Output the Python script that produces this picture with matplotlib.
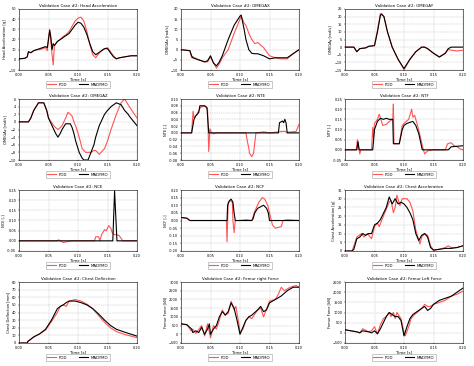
import matplotlib
matplotlib.use("Agg")
import matplotlib.pyplot as plt

# ---- datos ----
# 1. Head Acceleration
t_head = [0, 0.01, 0.014, 0.016, 0.02, 0.025, 0.03, 0.035, 0.04, 0.045, 0.048, 0.05, 0.052, 0.054, 0.056,
          0.058, 0.06, 0.065, 0.07, 0.075, 0.08, 0.085, 0.09, 0.095, 0.1, 0.105, 0.11, 0.115, 0.12, 0.125,
          0.13, 0.135, 0.14, 0.145, 0.15, 0.155, 0.16, 0.165, 0.17, 0.18, 0.19, 0.2]
mad_head = [1, 1.5, 3, 8, 7, 9, 10, 11, 12, 13, 12, 20, 29, 22, 10, 16, 14, 18, 20, 22, 24, 26, 30, 34, 37,
            36, 32, 25, 16, 8, 5, 7, 9, 11, 11, 7, 3, 1, 2, 3, 4, 4]
pod_head = [1, 1.5, 3, 8, 7, 9, 10, 10, 11, 12, 9, 22, 30, 18, 5, -5, 14, 18, 20, 23, 25, 28, 33, 38, 41,
            42, 38, 28, 15, 5, 2, 6, 9, 11, 12, 8, 4, 1, 2, 3, 4, 4]

# 2. OMEGAX
t_wx = [0, 0.015, 0.018, 0.02, 0.03, 0.04, 0.045, 0.05, 0.055, 0.06, 0.065, 0.07, 0.08, 0.09, 0.1, 0.102,
        0.107, 0.11, 0.115, 0.12, 0.125, 0.13, 0.14, 0.15, 0.16, 0.17, 0.18, 0.19, 0.2]
mad_wx = [0, -0.5, -3, -4, -5, -6, -5.5, -3, -6.5, -8, -6, -3, 5, 12, 16.5, 17, 10, 5, 0, -1.8, -2, -2,
          -3, -4.5, -4, -4, -4, -2, 0]
pod_wx = [0, -0.5, -4, -3.5, -5, -6, -6, -3.5, -6.5, -9, -7, -4, 0, 8, 15, 16.5, 13, 12, 8, 5, 3, 3.5,
          1, -3, -4, -4.5, -4.5, -2, 0]

# 3. OMEGAY
t_wy = [0, 0.015, 0.02, 0.025, 0.035, 0.04, 0.05, 0.055, 0.06, 0.062, 0.066, 0.072, 0.08, 0.09, 0.098,
        0.1, 0.11, 0.12, 0.13, 0.135, 0.14, 0.15, 0.16, 0.17, 0.175, 0.18, 0.19, 0.2]
mad_wy = [0, 0, -3, -1, -0.5, 0.5, 1, 10, 21, 21.5, 20, 10, 0, -8, -13, -14, -8, -3, 0, 0, -1, -4,
          -6.5, -4, -1, 0, 0, 0]
pod_wy = [0, 0, -3, -1, -0.5, 0.5, 1, 11, 22, 22, 20, 10, 0, -8, -13, -15, -8, -3, 0, 0, -1, -4,
          -6.5, -4, -1.5, -2, -2.5, -2]

# 4. OMEGAZ
t_wz = [0, 0.016, 0.02, 0.025, 0.033, 0.042, 0.047, 0.05, 0.059, 0.062, 0.066, 0.07, 0.073, 0.079, 0.083,
        0.087, 0.09, 0.093, 0.096, 0.102, 0.107, 0.11, 0.113, 0.117, 0.122, 0.127, 0.13, 0.136, 0.139,
        0.145, 0.15, 0.156, 0.165, 0.173, 0.179, 0.185, 0.187, 0.2]
mad_wz = [0, 0, 1, 3, 5, 5, 3, 1, -2, -3, -4, -3, -2, -0.5, -0.5, -0.5, -1.5, -3, -5, -8, -9.5, -10,
          -10, -10, -8, -6, -4, -1, 0, 2, 3, 4, 5, 4.5, 3, 2, 1.5, -1]
pod_wz = [0, 0, 1, 3, 5, 5, 3, 1, -1, -1.5, -2, -1.5, -1, 1, 2.5, 2, 1.5, 0, -1, -4, -7, -7.5, -8,
          -8, -8, -7.5, -7.5, -8.5, -8, -7, -5, -2, 2, 5, 6, 4.5, 4, 1]

# 5. NTE
t_nte_mad = [0, 0.018, 0.022, 0.025, 0.03, 0.032, 0.04, 0.044, 0.047, 0.05, 0.165, 0.167, 0.172, 0.174,
             0.176, 0.178, 0.18, 0.2]
mad_nte = [0, 0, 0.04, 0.05, 0.06, 0.08, 0.08, 0.075, 0, 0, 0, 0.03, 0.035, 0.03, 0.04, 0.03, 0, 0]
t_nte_pod = [0, 0.018, 0.0205, 0.022, 0.027, 0.033, 0.04, 0.045, 0.047, 0.049, 0.052, 0.055, 0.06, 0.11,
             0.113, 0.115, 0.116, 0.12, 0.123, 0.125, 0.127, 0.14, 0.15, 0.175, 0.18, 0.195, 0.2]
pod_nte = [0, 0, 0.064, 0.045, 0.055, 0.075, 0.08, 0.07, -0.055, 0.012, 0, -0.003, 0, 0, -0.03, -0.045,
           -0.06, -0.07, -0.06, -0.03, 0, 0.003, 0, 0.005, 0.002, 0.004, 0.025]

# 6. NTF
t_ntf_mad = [0, 0.02, 0.022, 0.024, 0.047, 0.05, 0.055, 0.06, 0.065, 0.07, 0.075, 0.081, 0.082, 0.092,
             0.097, 0.1, 0.105, 0.115, 0.12, 0.125, 0.131, 0.175, 0.18, 0.2]
mad_ntf = [0, 0, 0.04, 0, 0, 0.1, 0.14, 0.155, 0.15, 0.155, 0.15, 0.15, 0.03, 0.03, 0.1, 0.12, 0.13,
           0.14, 0.12, 0.08, 0, 0, 0.015, 0.02]
t_ntf_pod = [0, 0.019, 0.021, 0.025, 0.027, 0.045, 0.047, 0.048, 0.05, 0.055, 0.058, 0.064, 0.07, 0.075,
             0.081, 0.082, 0.083, 0.092, 0.097, 0.1, 0.108, 0.113, 0.115, 0.118, 0.123, 0.128, 0.132,
             0.135, 0.14, 0.15, 0.17, 0.174, 0.18, 0.185, 0.19, 0.195, 0.2]
pod_ntf = [0, 0, 0.05, -0.02, 0, 0, 0.11, 0.06, 0.13, 0.15, 0.175, 0.12, 0.125, 0.14, 0.15, 0.225, 0.03,
           0.03, 0.12, 0.13, 0.15, 0.2, 0.16, 0.17, 0.12, 0.06, 0.01, -0.02, -0.005, 0, 0, 0.03, 0.035,
           0.02, 0.015, 0.005, 0]

# 7. NCE
t_nce_mad = [0, 0.159, 0.162, 0.166, 0.2]
mad_nce = [0, 0, 0.245, 0, 0]
t_nce_pod = [0, 0.065, 0.067, 0.075, 0.08, 0.09, 0.128, 0.13, 0.135, 0.137, 0.14, 0.145, 0.148, 0.152,
             0.156, 0.158, 0.162, 0.166, 0.17, 0.176, 0.2]
pod_nce = [0, 0, 0.005, -0.008, -0.005, 0, 0, 0.02, 0.02, 0, 0.03, 0.055, 0.05, 0.075, 0.06, 0.04,
           0.03, 0.03, 0.025, 0, 0]

# 8. NCF
t_ncf_mad = [0, 0.01, 0.015, 0.078, 0.079, 0.082, 0.085, 0.088, 0.09, 0.092, 0.12, 0.122, 0.125, 0.13,
             0.14, 0.145, 0.148, 0.15, 0.2]
mad_ncf = [0.02, 0.015, 0, 0, 0.1, 0.13, 0.14, 0.12, 0.05, 0, 0, 0.01, 0.05, 0.08, 0.1, 0.08, 0.05, 0, 0]
t_ncf_pod = [0, 0.01, 0.015, 0.077, 0.078, 0.08, 0.084, 0.087, 0.088, 0.09, 0.092, 0.1, 0.11, 0.12,
             0.125, 0.132, 0.138, 0.142, 0.147, 0.15, 0.155, 0.16, 0.17, 0.173, 0.18, 0.2]
pod_ncf = [0.02, 0.015, 0, 0, -0.14, 0.12, 0.13, 0.12, 0, -0.08, 0, 0, 0.005, 0, 0.06, 0.12, 0.15, 0.14,
           0.1, 0.05, -0.03, -0.05, -0.04, 0, 0.005, 0]

# 9. Chest Acceleration
t_ca_mad = [0, 0.012, 0.015, 0.02, 0.025, 0.03, 0.035, 0.04, 0.045, 0.05, 0.055, 0.06, 0.07, 0.075, 0.08,
            0.085, 0.09, 0.095, 0.1, 0.105, 0.11, 0.115, 0.12, 0.125, 0.13, 0.135, 0.14, 0.145, 0.15,
            0.16, 0.17, 0.18, 0.19, 0.2]
mad_ca = [0, 0, 1, 7, 8, 10, 9, 10, 10, 15, 16, 18, 25, 31, 27, 30, 27, 28, 27, 25, 22, 18, 10, 6, 9, 10,
          8, 2, 0.5, 1, 1.5, 1.5, 2, 3]
t_ca_pod = [0, 0.012, 0.02, 0.028, 0.032, 0.038, 0.045, 0.05, 0.055, 0.058, 0.065, 0.07, 0.075, 0.078,
            0.082, 0.085, 0.088, 0.093, 0.097, 0.105, 0.11, 0.115, 0.12, 0.127, 0.13, 0.135, 0.14, 0.145,
            0.15, 0.16, 0.17, 0.175, 0.18, 0.19, 0.2]
pod_ca = [0, 0, 8, 10, 8, 10, 7, 14, 16, 14, 20, 24, 28, 29, 22, 25, 32, 26, 30, 30, 28, 23, 12, 4, 8,
          10, 9, 3, 0.5, 1, 2, 3, 2, 2, 3]

# 10. Chest Deflection
t_cd = [0, 0.014, 0.015, 0.025, 0.035, 0.045, 0.055, 0.065, 0.07, 0.075, 0.08, 0.085, 0.095, 0.105,
        0.115, 0.125, 0.135, 0.145, 0.155, 0.165, 0.18, 0.2]
mad_cd = [0, 0, 2, 8, 12, 18, 30, 45, 48, 50, 53, 55, 55, 53, 50, 45, 38, 30, 23, 18, 14, 9]
pod_cd = [0, 0, 2, 8, 12, 17, 28, 40, 48, 50, 48, 55, 57, 55, 51, 45, 36, 27, 20, 15, 11, 7]

# 11. Femur right Force
t_fr_mad = [0, 0.01, 0.018, 0.02, 0.025, 0.03, 0.035, 0.04, 0.045, 0.048, 0.05, 0.055, 0.06, 0.065, 0.07,
            0.075, 0.08, 0.085, 0.09, 0.095, 0.1, 0.105, 0.11, 0.115, 0.12, 0.13, 0.135, 0.14, 0.145,
            0.15, 0.16, 0.17, 0.18, 0.19, 0.2]
mad_fr = [600, 550, 300, 100, 200, 100, 400, 0, 300, 600, 0, 300, 500, 1000, 1300, 1100, 1300, 1800,
          1500, 800, 0, 400, 800, 1000, 1100, 1400, 1600, 1300, 1400, 1800, 2000, 2200, 2500, 2700, 2700]
t_fr_pod = [0, 0.01, 0.017, 0.02, 0.025, 0.035, 0.04, 0.045, 0.05, 0.055, 0.06, 0.065, 0.07, 0.075,
            0.08, 0.085, 0.09, 0.093, 0.098, 0.1, 0.105, 0.11, 0.115, 0.12, 0.13, 0.135, 0.14, 0.15,
            0.16, 0.165, 0.17, 0.175, 0.185, 0.195, 0.2]
pod_fr = [600, 550, 200, 300, 50, 500, -100, 600, -200, 500, 300, 800, 1400, 1100, 1200, 1900, 1400,
          1600, 600, 100, 300, 800, 1000, 900, 1400, 1500, 1000, 1900, 2000, 2300, 2700, 2500, 2700,
          2800, 2700]

# 12. Femur Left Force
t_fl_mad = [0, 0.01, 0.02, 0.025, 0.03, 0.04, 0.045, 0.05, 0.055, 0.06, 0.065, 0.07, 0.075, 0.08, 0.085,
            0.09, 0.095, 0.1, 0.105, 0.11, 0.115, 0.12, 0.125, 0.13, 0.135, 0.14, 0.145, 0.15, 0.16,
            0.17, 0.18, 0.19, 0.2]
mad_fl = [150, 100, 50, 0, 100, 50, 0, 100, -50, 200, 500, 800, 1000, 900, 800, 800, 600, -150, 300,
          700, 900, 1000, 1100, 1200, 1300, 1100, 1200, 1400, 1600, 1700, 1800, 2000, 2200]
t_fl_pod = [0, 0.01, 0.02, 0.025, 0.03, 0.04, 0.045, 0.05, 0.055, 0.06, 0.065, 0.07, 0.075, 0.078,
            0.082, 0.085, 0.088, 0.095, 0.1, 0.102, 0.108, 0.112, 0.118, 0.122, 0.13, 0.135, 0.14,
            0.145, 0.15, 0.16, 0.17, 0.18, 0.19, 0.2]
pod_fl = [150, 100, 50, 0, 200, 50, 100, 300, -50, 400, 700, 800, 1000, 800, 1000, 700, 1000, 700, 0,
          -150, 300, 700, 900, 1000, 1200, 1400, 1300, 1300, 1400, 1500, 1600, 1800, 1900, 2050]

titles = ["Head Acceleration", "OMEGAX", "OMEGAY", "OMEGAZ", "NTE", "NTF",
          "NCE", "NCF", "Chest Acceleration", "Chest Deflection", "Femur right Force",
          "Femur Left Force"]
ylabels = ["Head Acceleration [g]", "OMEGAx [rad/s]", "OMEGAy [rad/s]", "OMEGAz [rad/s]",
           "NTE [-]", "NTF [-]", "NCE [-]", "NCF [-]", "Chest Acceleration [g]",
           "Chest Deflection [mm]", "Femur Force [kN]", "Femur Force [kN]"]

series = [
    (t_head, pod_head, t_head, mad_head),
    (t_wx, pod_wx, t_wx, mad_wx),
    (t_wy, pod_wy, t_wy, mad_wy),
    (t_wz, pod_wz, t_wz, mad_wz),
    (t_nte_pod, pod_nte, t_nte_mad, mad_nte),
    (t_ntf_pod, pod_ntf, t_ntf_mad, mad_ntf),
    (t_nce_pod, pod_nce, t_nce_mad, mad_nce),
    (t_ncf_pod, pod_ncf, t_ncf_mad, mad_ncf),
    (t_ca_pod, pod_ca, t_ca_mad, mad_ca),
    (t_cd, pod_cd, t_cd, mad_cd),
    (t_fr_pod, pod_fr, t_fr_mad, mad_fr),
    (t_fl_pod, pod_fl, t_fl_mad, mad_fl),
]

# limites y paso de las marcas del eje y
ylims = [(-10, 50, 10), (-10, 20, 5), (-15, 25, 5), (-10, 6, 2), (-0.08, 0.10, 0.02),
         (-0.05, 0.25, 0.05), (-0.05, 0.25, 0.05), (-0.20, 0.20, 0.05), (0, 35, 5),
         (0, 80, 10), (-500, 3000, 500), (-500, 2500, 500)]

# posiciones de los ejes (en pixeles de la figura original)
lefts = [19, 181, 345]
bottoms = [70, 160, 251, 343]
W, H = 474, 366

fig = plt.figure(figsize=(4.74, 3.66), dpi=100)

for i in range(12):
    r, c = divmod(i, 3)
    ax = fig.add_axes([lefts[c] / W, 1 - bottoms[r] / H, 118 / W, 61 / H])
    tp, yp, tm, ym = series[i]
    ax.plot(tp, yp, color="#ff2a2a", lw=0.8, alpha=0.8, label="POD")
    ax.plot(tm, ym, color="black", lw=0.8, label="MADYMO")
    lo, hi, st = ylims[i]
    ax.set_ylim(lo, hi)
    ax.set_yticks([lo + k * st for k in range(int(round((hi - lo) / st)) + 1)])
    ax.set_xlim(0, 0.2)
    ax.set_xticks([0, 0.05, 0.1, 0.15, 0.2])
    ax.xaxis.set_major_formatter(plt.FormatStrFormatter("%.2f"))
    if st < 1:
        ax.yaxis.set_major_formatter(plt.FormatStrFormatter("%.2f"))
    ax.grid(True, ls="--", lw=0.3, color="#bbbbbb")
    ax.tick_params(labelsize=2.5, length=1, width=0.3, pad=1)
    for s in ax.spines.values():
        s.set_linewidth(0.4)
    ax.set_title("Validation Case #2: " + titles[i], fontsize=2.9, pad=1.5)
    ax.set_xlabel("Time [s]", fontsize=2.8, labelpad=0.5)
    ax.set_ylabel(ylabels[i], fontsize=2.6, labelpad=1)
    ax.legend(loc="upper center", bbox_to_anchor=(0.5, -0.15), ncol=2, fontsize=2.8,
              handlelength=2.2, columnspacing=3, frameon=True, borderpad=0.4,
              fancybox=False, edgecolor="#888888").get_frame().set_linewidth(0.4)

fig.savefig("out.png", dpi=100)
